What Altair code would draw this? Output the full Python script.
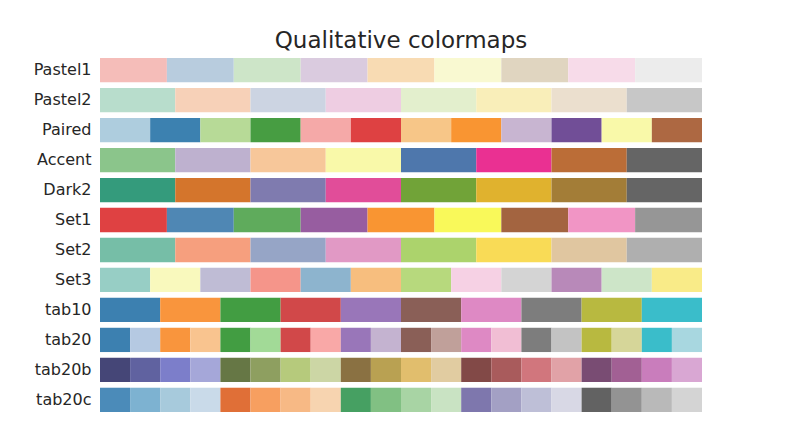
import colorsys
import altair as alt
import pandas as pd

names = ["Pastel1", "Pastel2", "Paired", "Accent", "Dark2", "Set1", "Set2",
         "Set3", "tab10", "tab20", "tab20b", "tab20c"]

pastel1 = ["#fbb4ae", "#b3cde3", "#ccebc5", "#decbe4", "#fed9a6", "#ffffcc",
           "#e5d8bd", "#fddaec", "#f2f2f2"]
pastel2 = ["#b3e2cd", "#fdcdac", "#cbd5e8", "#f4cae4", "#e6f5c9", "#fff2ae",
           "#f1e2cc", "#cccccc"]
paired = ["#a6cee3", "#1f78b4", "#b2df8a", "#33a02c", "#fb9a99", "#e31a1c",
          "#fdbf6f", "#ff7f00", "#cab2d6", "#6a3d9a", "#ffff99", "#b15928"]
accent = ["#7fc97f", "#beaed4", "#fdc086", "#ffff99", "#386cb0", "#f0027f",
          "#bf5b17", "#666666"]
dark2 = ["#1b9e77", "#d95f02", "#7570b3", "#e7298a", "#66a61e", "#e6ab02",
         "#a6761d", "#666666"]
set1 = ["#e41a1c", "#377eb8", "#4daf4a", "#984ea3", "#ff7f00", "#ffff33",
        "#a65628", "#f781bf", "#999999"]
set2 = ["#66c2a5", "#fc8d62", "#8da0cb", "#e78ac3", "#a6d854", "#ffd92f",
        "#e5c494", "#b3b3b3"]
set3 = ["#8dd3c7", "#ffffb3", "#bebada", "#fb8072", "#80b1d3", "#fdb462",
        "#b3de69", "#fccde5", "#d9d9d9", "#bc80bd", "#ccebc5", "#ffed6f"]
tab10 = ["#1f77b4", "#ff7f0e", "#2ca02c", "#d62728", "#9467bd", "#8c564b",
         "#e377c2", "#7f7f7f", "#bcbd22", "#17becf"]
tab20 = ["#1f77b4", "#aec7e8", "#ff7f0e", "#ffbb78", "#2ca02c", "#98df8a",
         "#d62728", "#ff9896", "#9467bd", "#c5b0d5", "#8c564b", "#c49c94",
         "#e377c2", "#f7b6d2", "#7f7f7f", "#c7c7c7", "#bcbd22", "#dbdb8d",
         "#17becf", "#9edae5"]
tab20b = ["#393b79", "#5254a3", "#6b6ecf", "#9c9ede", "#637939", "#8ca252",
          "#b5cf6b", "#cedb9c", "#8c6d31", "#bd9e39", "#e7ba52", "#e7cb94",
          "#843c39", "#ad494a", "#d6616b", "#e7969c", "#7b4173", "#a55194",
          "#ce6dbd", "#de9ed6"]
tab20c = ["#3182bd", "#6baed6", "#9ecae1", "#c6dbef", "#e6550d", "#fd8d3c",
          "#fdae6b", "#fdd0a2", "#31a354", "#74c476", "#a1d99b", "#c7e9c0",
          "#756bb1", "#9e9ac8", "#bcbddc", "#dadaeb", "#636363", "#969696",
          "#bdbdbd", "#d9d9d9"]

palettes = [pastel1, pastel2, paired, accent, dark2, set1, set2, set3,
            tab10, tab20, tab20b, tab20c]

# the reference image is rendered slightly muted; reproduce that tone
SAT_SCALE = 0.8
VAL_SCALE = 0.965


def muted(hex_color):
    r, g, b = (int(hex_color[i:i + 2], 16) / 255 for i in (1, 3, 5))
    h, s, v = colorsys.rgb_to_hsv(r, g, b)
    r, g, b = colorsys.hsv_to_rgb(h, s * SAT_SCALE, min(1.0, v * VAL_SCALE + 0.01))
    return "#%02x%02x%02x" % tuple(int(round(c * 255)) for c in (r, g, b))


rows = []
for name, cols in zip(names, palettes):
    n = len(cols)
    for i, c in enumerate(cols):
        rows.append({"cmap": name, "x0": i / n, "x1": (i + 1) / n, "color": muted(c)})
df = pd.DataFrame(rows)

chart = alt.Chart(df).mark_rect(strokeWidth=0).encode(
    x=alt.X("x0:Q", scale=alt.Scale(domain=[0, 1], nice=False, zero=False), axis=None),
    x2="x1:Q",
    y=alt.Y("cmap:N", sort=names,
            scale=alt.Scale(paddingInner=0.19, paddingOuter=0),
            axis=alt.Axis(title=None, ticks=False, domain=False, labelPadding=9,
                          labelFont="DejaVu Sans", labelFontSize=16,
                          labelColor="#262626", labelLimit=0)),
    color=alt.Color("color:N", scale=None),
).properties(
    width=602,
    height=354,
    title=alt.Title("Qualitative colormaps", font="DejaVu Sans", fontSize=23,
                    fontWeight="normal", color="#262626", anchor="middle",
                    baseline="alphabetic", offset=10, dy=23),
    autosize="none",
    padding={"left": 92, "top": 50, "right": 0, "bottom": 0},
).configure_view(stroke=None)

chart.save("out.html", embed_options={"renderer": "svg", "actions": False})
